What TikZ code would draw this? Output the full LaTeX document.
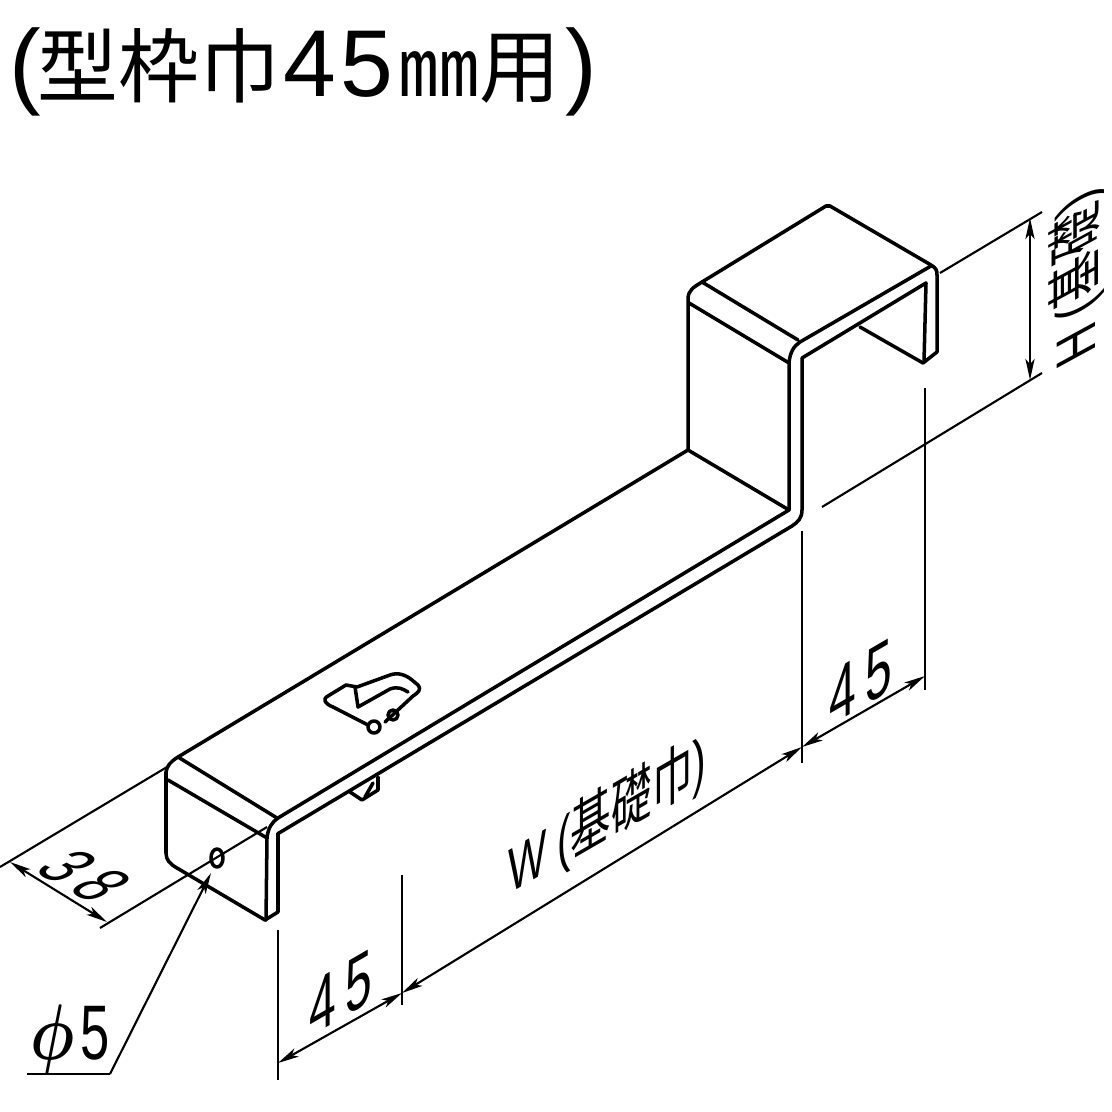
\documentclass[tikz,border=0pt]{standalone}
\usepackage{fontspec}
\setmainfont{Liberation Sans}
\newfontfamily\cjk{Noto Sans CJK JP}
\usepackage{tikz}
\usetikzlibrary{
    arrows.meta,
    calc
}
\tikzset{
  outline/.style = {
      line width=1pt,
      line join=round,
      line cap=round
  },
  thinline/.style = {
      line width=0.6pt
  },
  extline/.style = {
      line width=0.8pt
  },
  dimline/.style = {
      thinline,
      <->,
      >={Stealth[length=6pt,width=2.6pt,inset=1.5pt]}
  },
  leader/.style = {
      thinline,
      ->,
      >={Stealth[length=6pt,width=2.6pt,inset=1.5pt]}
  },
  label/.style = {
      transform shape,
      inner sep=0pt,
      font=\fontsize{22}{22}\selectfont
  },
  widelabel/.style = {
      label,
      font=\fontsize{18}{18}\selectfont
  },
  % baseline up the slope, letters upright
  risetext/.style = {
      label,
      cm={.62,.36,0,1,(#1)}
  },
  risewide/.style = {
      widelabel,
      cm={.64,.37,0,1,(#1)}
  },
  falltext/.style = {
      label,
      cm={.58,-.33,.85,.42,(#1)}
  },
  climbtext/.style = {
      widelabel,
      cm={0,.72,-.88,-.48,(#1)}
  }
}
\begin{document}
\begin{tikzpicture}[x=0.01cm,y=-0.01cm]
    \useasboundingbox (0,0) rectangle (1112,1112);
    % Title
    \node[anchor=west, inner sep=0pt, font=\fontsize{27}{27}\selectfont] (title) at (9,72)
        {(\hspace{-1pt}{\cjk\fontsize{23}{23}\selectfont 型枠巾}\hspace{1pt}4\hspace{1pt}5\hspace{1.5pt}{\cjk\fontsize{23}{23}\selectfont ㎜用}\hspace{1.5pt})};
    % Upper hook
    \draw[outline] (702,282) -- (826,206) -- (830,206) -- (931,265)
        .. controls (936,268) and (937,270) .. (937,275) -- (937,352) -- (923,363);
    \draw[outline] (702,282) -- (798,340);
    \draw[outline] (702,282) .. controls (694,287) and (688,290) .. (688,299) -- (688,450);
    \draw[outline] (689,303) -- (789,363) -- (789,510);
    \draw[outline] (789,363) .. controls (790,352) and (794,346) .. (800,342) -- (931,266);
    \draw[outline] (802,358) -- (926,283) -- (924,362);
    \draw[outline] (860,327) -- (923,363);
    % Long plate
    \draw[outline] (688,450) -- (789,510) -- (278,818);
    \draw[outline] (688,450) -- (178,757);
    \draw[outline] (802,358) -- (802,510) .. controls (802,518) and (798,522) .. (792,526) -- (279,833);
    % Lower end
    \draw[outline] (178,757) -- (277,818);
    \draw[outline] (178,757) .. controls (170,762) and (167,766) .. (166,772) -- (166,853)
        .. controls (166,860) and (170,864) .. (177,868) -- (265,920) -- (278,912) -- (278,833);
    \draw[outline] (168,780) -- (267,838) -- (266,920);
    \draw[outline] (267,838) .. controls (268,828) and (272,822) .. (278,818);
    \draw[outline] (217,858) ellipse [x radius=6, y radius=9];
    % Clip on the plate
    \draw[outline] (333,707) .. controls (325,704) and (322,699) .. (328,696) -- (346,685) -- (357,687) -- (390,675)
        .. controls (398,672) and (406,675) .. (412,680) -- (418,685) .. controls (422,689) and (418,693) .. (413,696) -- (385,722);
    \draw[outline] (333,707) -- (368,725);
    \draw[outline] (355,687) -- (358,707) -- (390,689) .. controls (398,686) and (403,689) .. (408,692);
    \draw[outline] (374,727) circle [radius=6];
    \draw[outline] (393,715) circle [radius=5];
    % Tab under the plate
    \draw[outline] (350,792) -- (362,800) -- (378,790) -- (378,777);
    \draw[outline] (373,783) -- (365,797);
    % Dimension lines
    \coordinate (hTop) at (1030,218);
    \coordinate (hBot) at (1030,380);
    \draw[thinline] (940,273) -- (1042,212);
    \draw[thinline] (822,507) -- (1042,373);
    \draw[dimline] (hTop) -- (hBot);
    \coordinate (rightA) at (802,747);
    \coordinate (rightB) at (925,676);
    \draw[extline] (802,531) -- (802,763);
    \draw[extline] (925,388) -- (925,690);
    \draw[dimline] (rightA) -- (rightB);
    \coordinate (midA) at (402,993);
    \draw[extline] (402,875) -- (402,1005);
    \draw[dimline] (midA) -- (rightA);
    \coordinate (leftA) at (278,1063);
    \draw[extline] (278,930) -- (278,1080);
    \draw[dimline] (leftA) -- (midA);
    \coordinate (endA) at (10,862);
    \coordinate (endB) at (107,922);
    \draw[thinline] (0,867) -- (167,767);
    \draw[thinline] (100,928) -- (267,827);
    \draw[dimline] (endA) -- (endB);
    % Hole leader
    \coordinate (holeTip) at (211,873);
    \coordinate (leaderKnee) at (110,1074);
    \coordinate (leaderEnd) at (27,1074);
    \draw[leader] (leaderKnee) -- (holeTip);
    \draw[thinline] (leaderKnee) -- (leaderEnd);
    % Labels
    \node[risetext={341,993}] (leftdim) {4\hspace{.2em}5};
    \node[risetext={861,682}] (rightdim) {4\hspace{.2em}5};
    \node[falltext={85,876}] (enddim) {3\hspace{.2em}8};
    \node[risewide={607,817}] (widthdim) {W ({\cjk 基礎巾})};
    \node[label, cm={.68,0,0,1,(70,1040)}] (holedim) {\scalebox{1.25}[1.08]{\boldmath$\phi$}\hspace{.1em}5};
    \begin{scope}
        \clip (1040,170) rectangle (1103,400);
        \node[climbtext={1078,278}] (heightdim) {H ({\cjk 基礎})};
    \end{scope}
\end{tikzpicture}
\end{document}
